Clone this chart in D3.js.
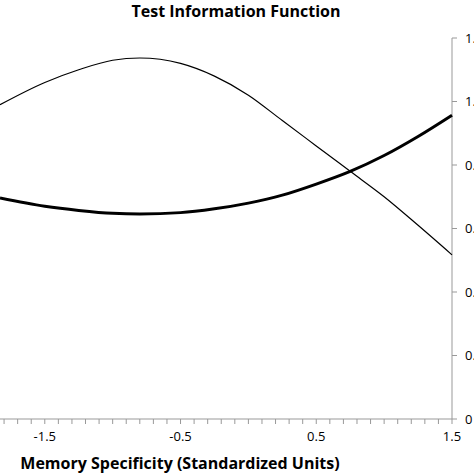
<!DOCTYPE html>
<html><head><meta charset="utf-8">
<script src="https://cdn.jsdelivr.net/npm/d3@7"></script>
<style>body{margin:0;background:#fff;overflow:hidden}svg{display:block;font-family:"Open Sans",sans-serif}</style>
</head><body><svg id="chart" width="474" height="474"></svg>
<script>
// theta values (standardized units)
let thetas = [-1.83, -1.5, -1.25, -1.0, -0.8, -0.5, -0.25, 0, 0.25, 0.5, 0.75, 1.0, 1.25, 1.5]
let thinInfo = [0.99, 1.06, 1.10, 1.13, 1.137, 1.12, 1.08, 1.02, 0.94, 0.86, 0.78, 0.70, 0.61, 0.517]
let thickInfo = [0.696, 0.670, 0.657, 0.648, 0.646, 0.650, 0.662, 0.680, 0.705, 0.74, 0.78, 0.83, 0.89, 0.957]
let xTickLabels = [-1.5, -0.5, 0.5, 1.5]
let yTickValues = [0, 0.2, 0.4, 0.6, 0.8, 1.0, 1.2]

let svg = d3.select("#chart")
let x = d3.scaleLinear().domain([-1.83, 1.5]).range([0, 452])
let y = d3.scaleLinear().domain([0, 1.2]).range([419, 38])

// x axis with minor ticks every 0.1
let minor = d3.range(-18, 16).map(d => d / 10)
let gx = svg.append("g").attr("transform", "translate(0,419)")
gx.append("line").attr("x1", 0).attr("x2", x(1.5)).attr("stroke", "#999")
gx.selectAll(".mt").data(minor).enter().append("line")
  .attr("x1", d => x(d)).attr("x2", d => x(d)).attr("y1", 0).attr("y2", 5).attr("stroke", "#999")
gx.selectAll("text").data(xTickLabels).enter().append("text")
  .attr("x", d => x(d)).attr("y", 22).attr("text-anchor", "middle")
  .style("font-size", "13px").text(d => d)

// right y axis
let gy = svg.append("g").attr("transform", "translate(" + x(1.5) + ",0)")
gy.append("line").attr("y1", y(0)).attr("y2", y(1.2)).attr("stroke", "#999")
gy.selectAll(".yt").data(yTickValues).enter().append("line")
  .attr("x1", 0).attr("x2", 5).attr("y1", d => y(d)).attr("y2", d => y(d)).attr("stroke", "#999")
gy.selectAll("text").data(yTickValues).enter().append("text")
  .attr("x", 13).attr("y", d => y(d)).attr("dy", "0.35em")
  .style("font-size", "13px").text(d => d === 0 ? "0" : d.toFixed(1))

let line = d3.line().curve(d3.curveMonotoneX).x(d => x(d[0])).y(d => y(d[1]))
svg.append("path").attr("d", line(thetas.map((t, i) => [t, thinInfo[i]])))
  .attr("fill", "none").attr("stroke", "#000").attr("stroke-width", 1.2)
svg.append("path").attr("d", line(thetas.map((t, i) => [t, thickInfo[i]])))
  .attr("fill", "none").attr("stroke", "#000").attr("stroke-width", 3)

svg.append("text").attr("x", 236).attr("y", 17).attr("text-anchor", "middle")
  .style("font-size", "16px").style("font-weight", "bold").text("Test Information Function")
svg.append("text").attr("x", 180).attr("y", 469).attr("text-anchor", "middle")
  .style("font-size", "16px").style("font-weight", "bold").text("Memory Specificity (Standardized Units)")
</script></body></html>
